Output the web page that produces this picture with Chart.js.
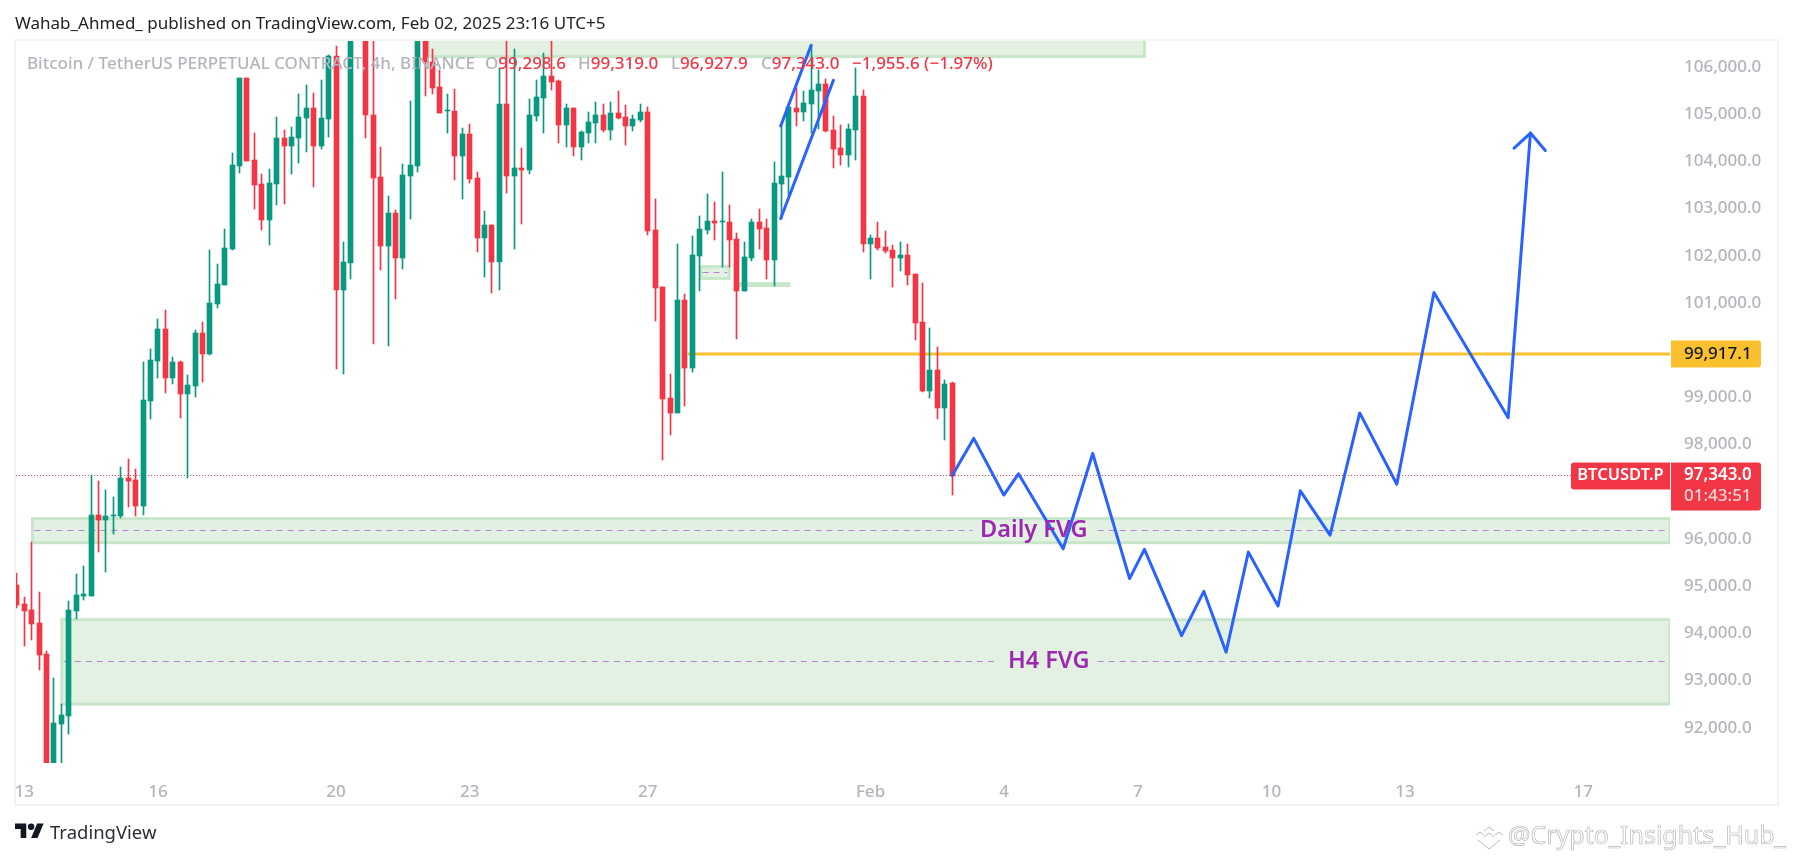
<!DOCTYPE html>
<html lang="en">
<head>
<meta charset="utf-8">
<title>BTCUSDT.P 4h</title>
<script src="https://cdn.jsdelivr.net/npm/chart.js@4/dist/chart.umd.min.js"></script>
<style>
html,body{margin:0;padding:0;background:#fff;width:1793px;height:858px;overflow:hidden;}
body{font-family:"Noto Sans","DejaVu Sans",sans-serif;position:relative;}
#frame{position:absolute;left:14px;top:39px;width:1761px;height:763px;border:2px solid #f4f4f5;}
canvas{position:absolute;left:0;top:0;}
.t{position:absolute;white-space:pre;line-height:1;}
#head{left:15px;top:14px;font-size:17px;color:#222;}
.leg{top:54px;font-size:17px;font-weight:500;color:#b2b5be;}
.red{color:#f23645;}
#tvtext{left:50px;top:823px;font-size:18.5px;color:#2a2e39;}
#wm{left:1508px;top:822px;font-size:25px;color:#fff;-webkit-text-stroke:0.7px #b8b8b8;}
</style>
</head>
<body>
<div id="frame"></div>
<canvas id="c" width="1793" height="858"></canvas>
<div class="t" id="head">Wahab_Ahmed_ published on TradingView.com, Feb 02, 2025 23:16 UTC+5</div>
<div class="t leg" style="left:27px">Bitcoin / TetherUS PERPETUAL CONTRACT, 4h, BINANCE</div>
<div class="t leg" style="left:485px">O<span class="red">99,298.6</span></div>
<div class="t leg" style="left:578px">H<span class="red">99,319.0</span></div>
<div class="t leg" style="left:671px">L<span class="red">96,927.9</span></div>
<div class="t leg" style="left:761px">C<span class="red">97,343.0</span></div>
<div class="t leg red" style="left:852px">−1,955.6 (−1.97%)</div>
<svg style="position:absolute;left:15px;top:820px" width="29" height="23" viewBox="0 0 36 28"><path fill="#131722" d="M14 22H7V11H0V4h14v18zM28 22h-8l7.5-18h8L28 22z"/><circle fill="#131722" cx="20" cy="8" r="4"/></svg>
<div class="t" id="tvtext">TradingView</div>
<svg style="position:absolute;left:1475px;top:826px" width="29" height="24" viewBox="0 0 29 24" fill="none" stroke="#b8b8b8" stroke-width="1"><path d="M9 5l5-4 5 4M1 9l4-3 4 3M20 9l4-3 4 3M9 11l5-4 5 4M3 14l11 9 11-9"/></svg>
<div class="t" id="wm">@Crypto_Insights_Hub_</div>
<script>
// Candle index 0 is Jan 13 00:00, one step per 4h bar, index -1 is the bar before it.
const firstIndex = -1;
const opens = [95020,94620,94490,94220,93560,90890,92080,92250,94470,94790,94790,96510,96400,96490,96490,97290,97250,96700,98920,99770,100450,99410,99750,99070,99240,100360,99920,100980,101380,102140,103900,105770,104030,103520,102760,103520,104500,104330,104500,104920,105130,104330,104900,106230,101280,101850,106890,107000,104980,103670,102210,102910,101950,103690,103900,106890,106110,105580,105070,105070,104110,104580,103650,102380,102650,101870,105220,103690,103850,103820,104960,105340,105810,105700,104770,105130,104300,104600,104810,104980,104670,105030,104940,104750,104880,105050,102550,101340,98990,98670,101060,99620,101990,102550,102740,102710,102720,102360,101250,101950,102720,102590,101910,103520,103670,105130,105050,105220,105490,105640,104670,104280,104140,104670,105390,102250,102380,102190,102120,101950,102020,101610,100600,99130,99580,98770,99298.6];
const highs = [95280,94770,95930,94880,93620,93050,92500,94680,95260,95430,97350,97230,97040,96890,97520,97690,97480,99750,100020,100660,100850,99860,99770,99470,100430,100600,102120,101830,102570,104180,105770,105770,104600,103730,103840,104940,104670,104730,105430,105620,105450,105720,106250,106440,102290,107100,107310,107210,106780,104300,103270,102970,103940,105280,107100,107100,106380,105940,105430,105530,104710,104790,103780,102950,102650,105980,106780,106380,104280,105320,105720,106300,106780,105720,105220,105130,104640,105050,105260,105220,105260,105490,105200,104980,105220,105150,103200,101340,99500,102250,101190,102420,102840,103310,103140,103780,103080,102480,102290,102780,102990,102780,103990,104770,105200,105560,105490,106470,105940,105750,104960,104770,104790,105980,105510,102440,102720,102530,102230,102290,102250,101610,101420,100470,100070,99370,99319];
const lows = [94540,93730,93860,93220,90680,90570,91000,91870,94300,94710,94790,95720,95300,96100,96440,96680,96490,96510,98540,99410,99090,99280,98560,97290,99010,99320,99900,100890,101380,102120,103750,104010,102990,102550,102230,103080,103100,103730,103970,104200,103460,104260,104520,99600,99500,101510,106780,104500,100130,101700,100090,101080,101720,102780,103780,105390,105430,105030,104600,103610,103200,103540,102080,101550,101210,101280,103330,102140,102670,103730,104860,104600,105510,104390,104300,104110,104030,104390,104390,104620,104450,104900,104350,104640,104830,102440,100620,97670,98200,98670,98820,99540,101250,102460,102330,101760,101760,100240,101250,101890,102140,101510,101360,102780,103290,104750,104860,104600,104690,104620,103860,103920,103880,104030,102080,101510,102120,102060,101340,101680,101380,100210,99110,98990,98540,98100,96927.9];
const closes = [94600,94470,94200,93540,90890,92100,92270,94490,94810,94830,96510,96400,96490,96510,97290,97230,96700,98940,99790,100450,99410,99750,99070,99260,100360,99920,101000,101400,102160,103920,105770,104010,103500,102760,103540,104500,104330,104520,104940,105130,104330,104920,106230,101280,101870,106890,107210,104980,103650,102210,102910,101950,103710,103920,106890,106110,105560,105030,105090,104110,104580,103630,102380,102650,101870,105220,103690,103860,103820,104980,105360,105810,105680,104770,105130,104300,104620,104830,104980,104670,105030,104920,104750,104900,105050,102530,101320,98970,98670,101060,99620,102020,102570,102740,102700,102730,102330,101250,101970,102720,102570,101910,103540,103690,105150,105050,105240,105510,105640,104640,104260,104140,104690,105390,102250,102380,102160,102100,101950,102020,101590,100580,99130,99580,98770,99280,97343];

const tickIndexes = [0,18,42,60,84,114,132,150,168,186,210];
const tickLabels = ["13","16","20","23","27","Feb","4","7","10","13","17"];
const priceTicks = [92000,93000,94000,95000,96000,97000,98000,99000,100000,101000,102000,103000,104000,105000,106000];

const pathIdx = [125,127.9,131.95,133.93,139.95,143.93,148.9,150.9,155.9,158.9,161.9,164.9,168.9,171.9,175.9,179.9,184.9,189.9,199.9,202.9];
const pathPrice = [97343,98130,96930,97380,95790,97810,95160,95780,93950,94890,93600,95720,94580,97020,96080,98670,97160,101220,98570,104600];
const headIdx = [200.7,202.9,204.9];
const headPrice = [104280,104600,104230];
const flagUpperIdx = [101.9,106.0];
const flagUpperPrice = [104750,106460];
const flagLowerIdx = [101.9,109.0];
const flagLowerPrice = [102790,105720];

const levelPrice = 99917.1;
const levelIdx = [89.4,221.7];
const lastPrice = 97343.0;
const countdown = "01:43:51";
const symbol = "BTCUSDT.P";

const zoneStart = [54.4,1.1,5.05,91.1,96.5];
const zoneEnd = [150.9,221.7,221.7,94.95,103.0];
const zoneTop = [106800,96430,94290,101770,101410];
const zoneBottom = [106220,95920,92500,101520,101370];
const zoneMid = [null,96180,93410,101650,null];
const zoneGapFrom = [null,127.7,131.2,null,null];
const zoneGapTo = [null,144.6,144.6,null,null];
const zoneNames = [null,"Daily FVG","H4 FVG",null,null];
const zoneNameIdx = [null,136,138,null,null];

const UP="#089981", DOWN="#f23645", BLUE="#2962ff";
const FONT='"Noto Sans"';
const idx = opens.map((_,i)=>i+firstIndex);
const colors = opens.map((o,i)=>closes[i]>=o?UP:DOWN);
const pts=(xs,ys)=>xs.map((x,i)=>({x,y:ys[i]}));
const lineDs=(data,color,width,order,extra)=>Object.assign({type:'line',data,borderColor:color,borderWidth:width,pointRadius:0,tension:0,fill:false,order,borderCapStyle:'round',borderJoinStyle:'round'},extra||{});

const snapBars={id:'snapBars',afterDatasetsUpdate(chart){
  chart.data.datasets.forEach((d,k)=>{
    if(d.type!=='bar')return;
    chart.getDatasetMeta(k).data.forEach(el=>{
      el.x=Math.floor(el.x)+0.5;
      el.y=Math.round(el.y);
      el.base=Math.round(el.base);
      if(el.y===el.base)el.base=el.y+1;
    });
  });
}};
const zones={id:'zones',beforeDatasetsDraw(chart){
  const {ctx,chartArea:a,scales:{x,y}}=chart;
  ctx.save();ctx.beginPath();ctx.rect(a.left,a.top,a.width,a.height);ctx.clip();
  zoneStart.forEach((s,i)=>{
    const l=x.getPixelForValue(s),r=x.getPixelForValue(zoneEnd[i]);
    const t=y.getPixelForValue(zoneTop[i]),b=y.getPixelForValue(zoneBottom[i]);
    ctx.fillStyle='#e3f1e3';ctx.fillRect(l,t,r-l,b-t);
    ctx.strokeStyle='#c8e6c9';ctx.lineWidth=3;
    ctx.strokeRect(l,t,r-l,b-t);
    if(zoneMid[i]!==null){
      const m=Math.round(y.getPixelForValue(zoneMid[i]))+0.5;
      ctx.strokeStyle='#b681d2';ctx.lineWidth=1;ctx.setLineDash([6,5]);
      ctx.beginPath();
      if(zoneGapFrom[i]!==null){
        ctx.moveTo(l+2,m);ctx.lineTo(x.getPixelForValue(zoneGapFrom[i]),m);
        ctx.moveTo(x.getPixelForValue(zoneGapTo[i]),m);ctx.lineTo(r,m);
      }else{ctx.moveTo(l+2,m);ctx.lineTo(r-2,m);}
      ctx.stroke();ctx.setLineDash([]);
    }
  });
  ctx.restore();
},afterDatasetsDraw(chart){
  const {ctx,scales:{x,y}}=chart;
  ctx.save();ctx.fillStyle='#9c27b0';ctx.font='600 23.5px '+FONT;ctx.textAlign='center';ctx.textBaseline='middle';
  zoneNames.forEach((n,i)=>{if(n)ctx.fillText(n,x.getPixelForValue(zoneNameIdx[i]),y.getPixelForValue(zoneMid[i]));});
  ctx.restore();
}};
function rr(ctx,x,y,w,h,r){ctx.beginPath();ctx.roundRect(x,y,w,h,r);ctx.fill();}
const priceTags={id:'priceTags',afterDraw(chart){
  const {ctx,chartArea:a,scales:{y}}=chart;
  const L=a.right+1,W=90;
  const yl=y.getPixelForValue(levelPrice), yp=y.getPixelForValue(lastPrice);
  ctx.save();ctx.textBaseline='middle';ctx.textAlign='left';
  ctx.fillStyle='#fbc02d';rr(ctx,L,yl-13.5,W,27,[0,3,3,0]);
  ctx.fillStyle='#131722';ctx.font='500 17px '+FONT;
  ctx.fillText(levelPrice.toLocaleString('en-US',{minimumFractionDigits:1}),L+13,yl);
  ctx.fillStyle=DOWN;rr(ctx,L,yp-13,W,48,[0,3,3,0]);
  rr(ctx,a.right-99,yp-13,99,27,[3,0,0,3]);
  ctx.fillStyle='#fff';ctx.font='600 17px '+FONT;
  ctx.fillText(lastPrice.toLocaleString('en-US',{minimumFractionDigits:1}),L+13,yp);
  ctx.font='600 16.5px '+FONT;
  ctx.textAlign='center';ctx.fillText(symbol,a.right-49.5,yp);
  ctx.textAlign='left';ctx.fillStyle='#fbd5d8';ctx.font='500 17px '+FONT;
  ctx.fillText(countdown,L+13,yp+21);
  ctx.restore();
}};

new Chart(document.getElementById('c'),{
  data:{datasets:[
    lineDs(pts(pathIdx,pathPrice),BLUE,3,0),
    lineDs(pts(headIdx,headPrice),BLUE,3,0),
    lineDs(pts(flagUpperIdx,flagUpperPrice),BLUE,3,0),
    lineDs(pts(flagLowerIdx,flagLowerPrice),BLUE,3,0),
    {type:'bar',data:idx.map((x,i)=>({x,y:[opens[i],closes[i]]})),backgroundColor:colors,maxBarThickness:5,barPercentage:1,categoryPercentage:1,grouped:false,order:1},
    {type:'bar',data:idx.map((x,i)=>({x,y:[lows[i],highs[i]]})),backgroundColor:colors,maxBarThickness:1,barPercentage:1,categoryPercentage:1,grouped:false,order:2},
    lineDs(pts(levelIdx,[levelPrice,levelPrice]),'#fbc02d',3,3,{borderCapStyle:'butt'}),
    lineDs(pts([-1.118,208.5],[lastPrice,lastPrice]),DOWN,1,4,{borderDash:[1,2],borderCapStyle:'butt'})
  ]},
  options:{
    responsive:false,animation:false,devicePixelRatio:1,
    events:[],
    layout:{padding:{left:16,top:41,right:15,bottom:53}},
    plugins:{legend:{display:false},tooltip:{enabled:false},title:{display:false}},
    scales:{
      x:{type:'linear',offset:false,min:-1.118,max:221.7,
        grid:{display:false},border:{display:false},
        afterBuildTicks(s){s.ticks=tickIndexes.map(value=>({value}));},
        afterFit(s){s.height=42;},
        ticks:{autoSkip:false,maxRotation:0,padding:11,color:'#b2b5be',font:{family:FONT,size:17,weight:'500'},
          callback(v){const k=tickIndexes.indexOf(v);return k<0?'':tickLabels[k];}}},
      y:{type:'linear',position:'right',min:91252,max:106551,
        grid:{display:false,drawTicks:false},border:{display:false},
        afterBuildTicks(s){s.ticks=priceTicks.map(value=>({value}));},
        afterFit(s){s.width=108;},
        ticks:{padding:14,color:'#b2b5be',font:{family:FONT,size:17,weight:'500'},
          callback(v){return v.toLocaleString('en-US',{minimumFractionDigits:1});}}}
    }
  },
  plugins:[snapBars,zones,priceTags]
});
</script>
</body>
</html>
